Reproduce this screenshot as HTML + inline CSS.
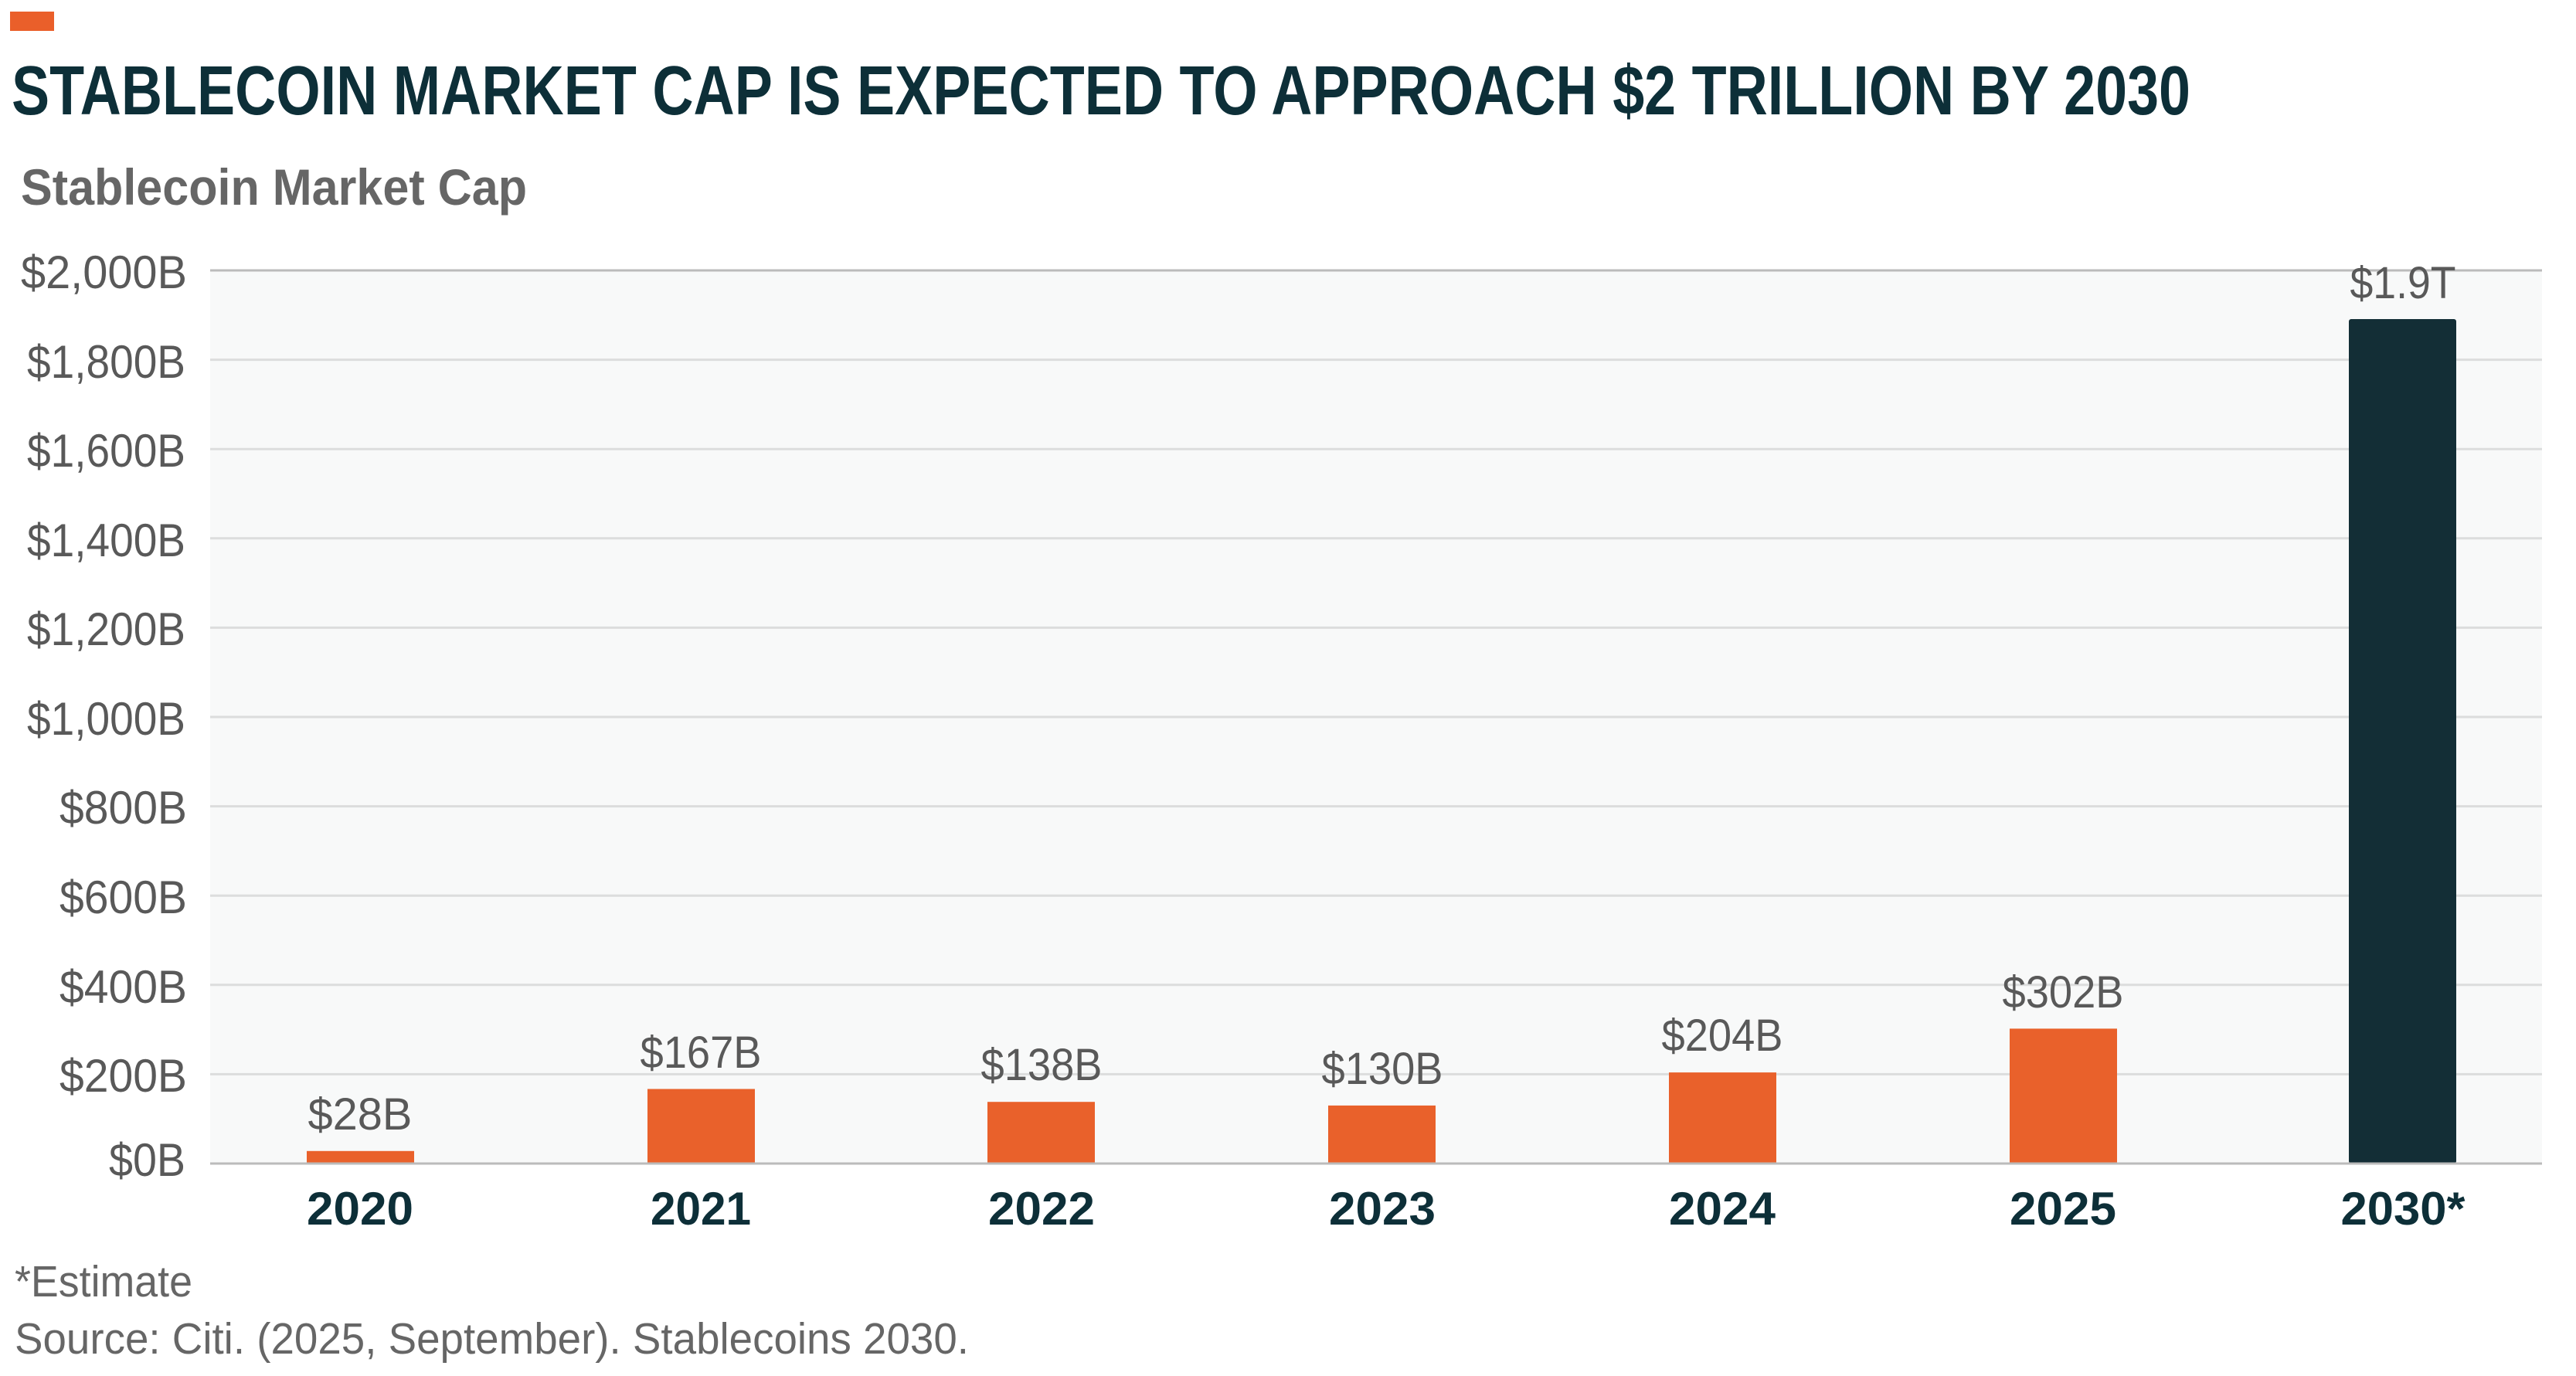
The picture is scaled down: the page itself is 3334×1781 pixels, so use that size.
<!DOCTYPE html>
<html><head><meta charset="utf-8"><style>
html,body{margin:0;padding:0;background:#fff;}
svg{display:block;}
text{font-family:"Liberation Sans",sans-serif;}
</style></head><body>
<svg width="3334" height="1781" viewBox="0 0 3334 1781" xmlns="http://www.w3.org/2000/svg">
<rect x="13" y="15" width="57" height="25" fill="#ea5f2a"/>
<text x="15" y="148" font-size="90" font-weight="bold" fill="#0d2f38" textLength="2820" lengthAdjust="spacingAndGlyphs">STABLECOIN MARKET CAP IS EXPECTED TO APPROACH $2 TRILLION BY 2030</text>
<text x="27" y="265" font-size="66" font-weight="bold" fill="#666" textLength="655" lengthAdjust="spacingAndGlyphs">Stablecoin Market Cap</text>
<rect x="272" y="350" width="3018" height="1156" fill="#f8f9f9"/>
<g stroke="#dcdddd" stroke-width="3">
<line x1="272" x2="3290" y1="465.6" y2="465.6"/>
<line x1="272" x2="3290" y1="581.2" y2="581.2"/>
<line x1="272" x2="3290" y1="696.8" y2="696.8"/>
<line x1="272" x2="3290" y1="812.4" y2="812.4"/>
<line x1="272" x2="3290" y1="928" y2="928"/>
<line x1="272" x2="3290" y1="1043.6" y2="1043.6"/>
<line x1="272" x2="3290" y1="1159.2" y2="1159.2"/>
<line x1="272" x2="3290" y1="1274.8" y2="1274.8"/>
<line x1="272" x2="3290" y1="1390.4" y2="1390.4"/>
</g>
<line x1="272" x2="3290" y1="350" y2="350" stroke="#bbb" stroke-width="3"/>
<g fill="#595959" font-size="60" text-anchor="end">
<text x="242" y="373" textLength="215" lengthAdjust="spacingAndGlyphs">$2,000B</text>
<text x="240" y="489" textLength="205" lengthAdjust="spacingAndGlyphs">$1,800B</text>
<text x="240" y="604" textLength="205" lengthAdjust="spacingAndGlyphs">$1,600B</text>
<text x="240" y="720" textLength="205" lengthAdjust="spacingAndGlyphs">$1,400B</text>
<text x="240" y="835" textLength="205" lengthAdjust="spacingAndGlyphs">$1,200B</text>
<text x="240" y="951" textLength="205" lengthAdjust="spacingAndGlyphs">$1,000B</text>
<text x="242" y="1066" textLength="165" lengthAdjust="spacingAndGlyphs">$800B</text>
<text x="242" y="1182" textLength="165" lengthAdjust="spacingAndGlyphs">$600B</text>
<text x="242" y="1298" textLength="165" lengthAdjust="spacingAndGlyphs">$400B</text>
<text x="242" y="1413" textLength="165" lengthAdjust="spacingAndGlyphs">$200B</text>
<text x="240" y="1522" textLength="99" lengthAdjust="spacingAndGlyphs">$0B</text>
</g>
<g fill="#e9612b">
<rect x="397" y="1489.8" width="139" height="16.2"/>
<rect x="838" y="1409.5" width="139" height="96.5"/>
<rect x="1278" y="1426.2" width="139" height="79.8"/>
<rect x="1719" y="1430.9" width="139" height="75.1"/>
<rect x="2160" y="1388.1" width="139" height="117.9"/>
<rect x="2601" y="1331.4" width="139" height="174.6"/>
</g>
<rect x="3040" y="413" width="139" height="1093" rx="3" fill="#132e36"/>
<line x1="272" x2="3290" y1="1506" y2="1506" stroke="#bbb" stroke-width="3"/>
<g fill="#595959" font-size="58" text-anchor="middle">
<text x="466" y="1462" textLength="135" lengthAdjust="spacingAndGlyphs">$28B</text>
<text x="907" y="1382" textLength="157" lengthAdjust="spacingAndGlyphs">$167B</text>
<text x="1348" y="1398" textLength="157" lengthAdjust="spacingAndGlyphs">$138B</text>
<text x="1789" y="1403" textLength="157" lengthAdjust="spacingAndGlyphs">$130B</text>
<text x="2229" y="1360" textLength="157" lengthAdjust="spacingAndGlyphs">$204B</text>
<text x="2670" y="1304" textLength="157" lengthAdjust="spacingAndGlyphs">$302B</text>
<text x="3110" y="386" textLength="137" lengthAdjust="spacingAndGlyphs">$1.9T</text>
</g>
<g fill="#0d2f38" font-size="60" font-weight="bold" text-anchor="middle">
<text x="466" y="1585" textLength="138" lengthAdjust="spacingAndGlyphs">2020</text>
<text x="907" y="1585" textLength="130" lengthAdjust="spacingAndGlyphs">2021</text>
<text x="1348" y="1585" textLength="138" lengthAdjust="spacingAndGlyphs">2022</text>
<text x="1789" y="1585" textLength="138" lengthAdjust="spacingAndGlyphs">2023</text>
<text x="2229" y="1585" textLength="138" lengthAdjust="spacingAndGlyphs">2024</text>
<text x="2670" y="1585" textLength="138" lengthAdjust="spacingAndGlyphs">2025</text>
<text x="3110" y="1585" textLength="161" lengthAdjust="spacingAndGlyphs">2030*</text>
</g>
<g fill="#666" font-size="57">
<text x="19" y="1678" textLength="230" lengthAdjust="spacingAndGlyphs">*Estimate</text>
<text x="19" y="1752" textLength="1235" lengthAdjust="spacingAndGlyphs">Source: Citi. (2025, September). Stablecoins 2030.</text>
</g>
</svg>
</body></html>
